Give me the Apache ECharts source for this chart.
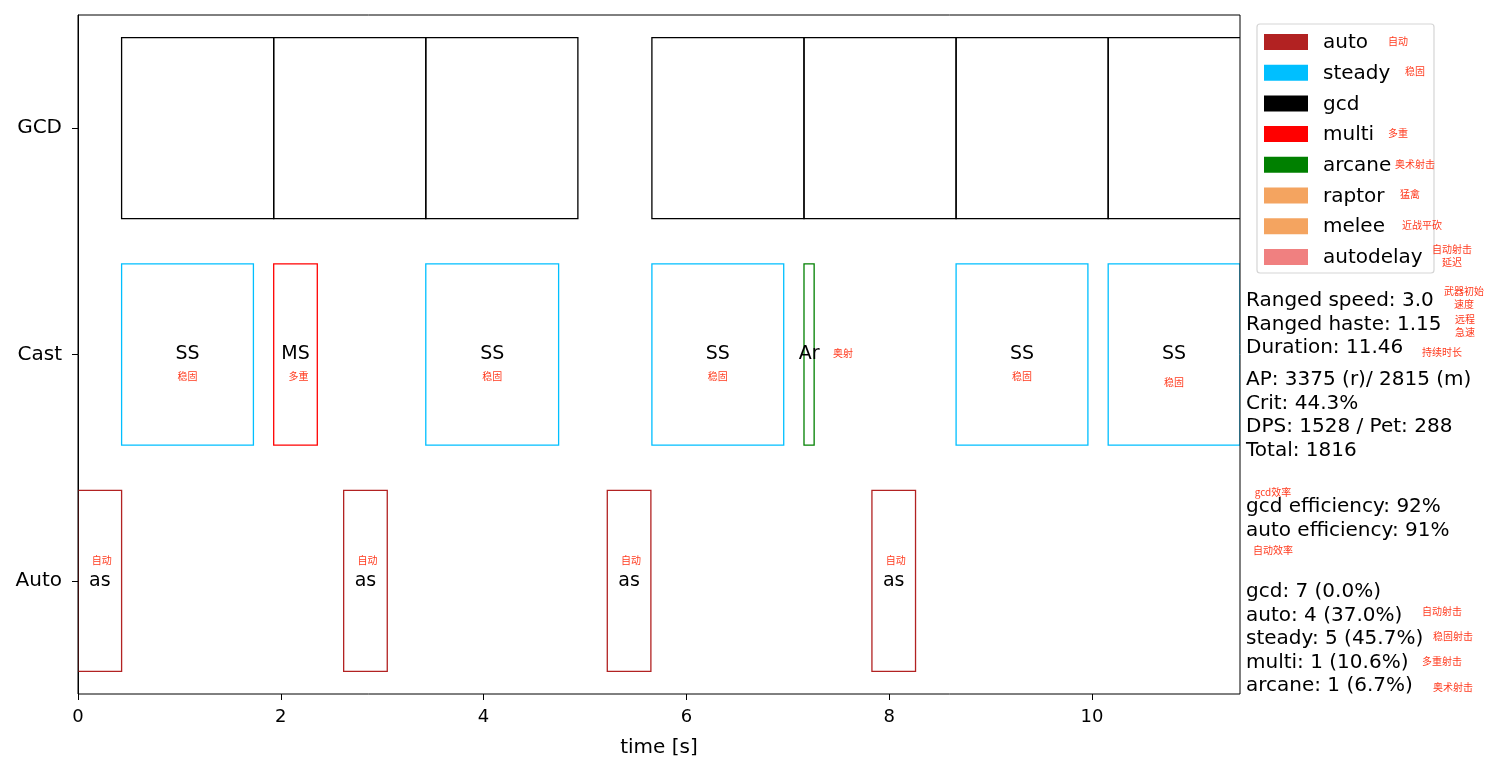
<!DOCTYPE html>
<html>
<head>
<meta charset="utf-8">
<script src="https://cdn.jsdelivr.net/npm/echarts@6/dist/echarts.min.js"></script>
<style>body{margin:0}#main{width:1495px;height:772px}</style>
</head>
<body>
<div id="main"></div>
<script>
var rows = ['Auto', 'Cast', 'GCD'];
var duration = 11.46;

// [row, start, end, kind, label, note]
var gcdBars = [[2, 0.43, 1.93], [2, 1.93, 3.43], [2, 3.43, 4.93], [2, 5.66, 7.16], [2, 7.16, 8.66], [2, 8.66, 10.16], [2, 10.16, 11.66]];
var castBars = [
    [1, 0.43, 1.73, 'steady', 'SS', '稳固'],
    [1, 1.93, 2.36, 'multi', 'MS', '多重'],
    [1, 3.43, 4.74, 'steady', 'SS', '稳固'],
    [1, 5.66, 6.96, 'steady', 'SS', '稳固'],
    [1, 7.16, 7.26, 'arcane', 'Ar', '奥射'],
    [1, 8.66, 9.96, 'steady', 'SS', '稳固'],
    [1, 10.16, 11.46, 'steady', 'SS', '稳固']
];
var autoBars = [[0, 0, 0.43, 'auto', 'as', '自动'], [0, 2.62, 3.05, 'auto', 'as', '自动'], [0, 5.22, 5.65, 'auto', 'as', '自动'], [0, 7.83, 8.26, 'auto', 'as', '自动']];

var colors = { auto: '#b22222', steady: '#00bfff', gcd: '#000000', multi: '#ff0000', arcane: '#008000', raptor: '#f4a460', melee: '#f4a460', autodelay: '#f08080' };
var legendNames = ['auto', 'steady', 'gcd', 'multi', 'arcane', 'raptor', 'melee', 'autodelay'];
var legendNotes = ['自动', '稳固', '', '多重', '奥术射击', '猛禽', '近战平砍', '自动射击\n延迟'];

var statLines1 = ['Ranged speed: 3.0', 'Ranged haste: 1.15', 'Duration: 11.46'];
var statLines2 = ['AP: 3375 (r)/ 2815 (m)', 'Crit: 44.3%', 'DPS: 1528 / Pet: 288', 'Total: 1816'];
var statLines3 = ['gcd efficiency: 92%', 'auto efficiency: 91%'];
var statLines4 = ['gcd: 7 (0.0%)', 'auto: 4 (37.0%)', 'steady: 5 (45.7%)', 'multi: 1 (10.6%)', 'arcane: 1 (6.7%)'];
var statNotes4 = ['', '自动射击', '稳固射击', '多重射击', '奥术射击'];

var FONT = '"DejaVu Sans"';
var NOTE = '#ff3b1f';

function renderBar(params, api) {
    var row = api.value(0);
    var p0 = api.coord([api.value(1), row]);
    var p1 = api.coord([api.value(2), row]);
    var h = api.size([0, 1])[1] * 0.8;
    var kind = api.value(3);
    var label = api.value(4);
    var note = api.value(5);
    var cs = params.coordSys;
    var children = [{
        type: 'rect',
        shape: { x: p0[0], y: p0[1] - h / 2, width: p1[0] - p0[0], height: h },
        style: { fill: 'none', stroke: colors[kind] || '#000', lineWidth: 1.3 }
    }];
    var cx = (p0[0] + p1[0]) / 2;
    if (label) {
        children.push({ type: 'text', style: { text: label, x: cx, y: p0[1], align: 'center', verticalAlign: 'middle', font: '19px ' + FONT, fill: '#000' } });
    }
    if (note) {
        var nx = cx, ny = p0[1] + 22;
        if (kind === 'auto') { nx = cx + 2; ny = p0[1] - 21; }
        if (kind === 'arcane') { nx = cx + 34; ny = p0[1] - 1; }
        if (kind === 'multi') { nx = cx + 3; }
        if (params.dataIndex === 6 && kind === 'steady') { ny = p0[1] + 28; }
        children.push({ type: 'text', style: { text: note, x: nx, y: ny, align: 'center', verticalAlign: 'middle', font: '10px "Noto Sans CJK SC"', fill: NOTE } });
    }
    return {
        type: 'group',
        clipPath: { type: 'rect', shape: { x: cs.x, y: cs.y, width: cs.width, height: cs.height } },
        children: children
    };
}

var graphics = [];
// legend
graphics.push({ type: 'rect', shape: { x: 1257, y: 24, width: 177, height: 249, r: 3 }, style: { fill: '#fff', stroke: '#d5d5d5', lineWidth: 1.2 } });
legendNames.forEach(function (n, i) {
    var y = 42 + i * 30.7;
    graphics.push({ type: 'rect', shape: { x: 1264, y: y - 8, width: 44, height: 16 }, style: { fill: colors[n] } });
    graphics.push({ type: 'text', style: { text: n, x: 1323, y: y + 1, verticalAlign: 'middle', font: '20px ' + FONT, fill: '#000' } });
    if (legendNotes[i]) {
        var nx = { 0: 1398, 1: 1415, 3: 1398, 4: 1415, 5: 1410, 6: 1422, 7: 1452 }[i];
        graphics.push({ type: 'text', style: { text: legendNotes[i], x: nx, y: y - 1, align: 'center', verticalAlign: 'middle', font: '10px "Noto Sans CJK SC"', fill: NOTE, lineHeight: 13 } });
    }
});
function addLines(lines, y0, step) {
    lines.forEach(function (t, i) {
        graphics.push({ type: 'text', style: { text: t, x: 1246, y: y0 + i * step, verticalAlign: 'middle', font: '20px ' + FONT, fill: '#000' } });
    });
}
addLines(statLines1, 301, 23.5);
addLines(statLines2, 380, 23.5);
addLines(statLines3, 507, 23.5);
addLines(statLines4, 592, 23.5);
function note(t, x, y) {
    graphics.push({ type: 'text', style: { text: t, x: x, y: y, align: 'center', verticalAlign: 'middle', font: '10px "Noto Sans CJK SC"', fill: NOTE, lineHeight: 13 } });
}
note('武器初始\n速度', 1464, 298);
note('远程\n急速', 1465, 326);
note('持续时长', 1442, 352);
note('gcd效率', 1273, 492);
note('自动效率', 1273, 550);
statNotes4.forEach(function (t, i) {
    if (t) note(t, { 1: 1442, 2: 1453, 3: 1442, 4: 1453 }[i], 611 + i * 25.3 - 25.3);
});

var myChart = echarts.init(document.getElementById('main'));
myChart.setOption({
    animation: false,
    grid: { left: 78, right: 255, top: 15, bottom: 78 },
    xAxis: {
        type: 'value', min: 0, max: duration, interval: 2,
        name: 'time [s]', nameLocation: 'middle', nameGap: 44,
        nameTextStyle: { fontSize: 20, fontFamily: 'DejaVu Sans', color: '#000' },
        axisLine: { lineStyle: { color: '#000' } },
        axisTick: { show: true, length: 6, lineStyle: { color: '#000' } },
        axisLabel: { fontSize: 18, fontFamily: 'DejaVu Sans', color: '#000', showMaxLabel: false, margin: 14 },
        splitLine: { show: false }
    },
    yAxis: {
        type: 'category', data: rows,
        axisLine: { lineStyle: { color: '#000' } },
        axisTick: { show: true, alignWithLabel: true, length: 6, lineStyle: { color: '#000' } },
        axisLabel: { fontSize: 20, fontFamily: 'DejaVu Sans', color: '#000', margin: 16 }
    },
    series: [
        { type: 'custom', renderItem: renderBar, data: gcdBars.map(function (b) { return b.concat(['gcd', '', '']); }), encode: { x: [1, 2], y: 0 } },
        { type: 'custom', renderItem: renderBar, data: castBars, encode: { x: [1, 2], y: 0 } },
        { type: 'custom', renderItem: renderBar, data: autoBars, encode: { x: [1, 2], y: 0 } }
    ],
    graphic: graphics.concat([{ type: 'rect', shape: { x: 78, y: 15, width: 1162, height: 679 }, style: { fill: 'none', stroke: '#000', lineWidth: 1 }, z: 10 }])
});
</script>
</body>
</html>
